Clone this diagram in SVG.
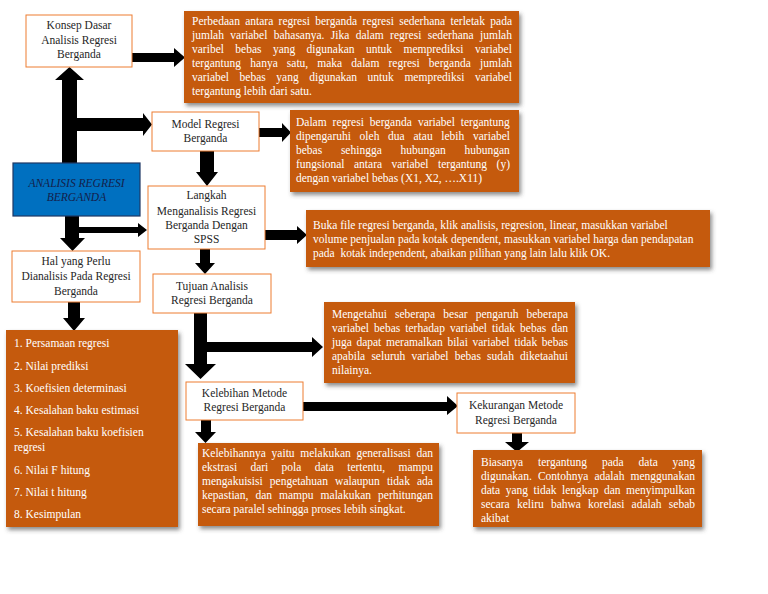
<svg xmlns="http://www.w3.org/2000/svg" width="768" height="594" viewBox="0 0 768 594">
<defs>
<filter id="sh" x="-10%" y="-10%" width="125%" height="130%">
<feDropShadow dx="2" dy="3" stdDeviation="2" flood-color="#404040" flood-opacity="0.6"/>
</filter>
<style>
.wbox{fill:#ffffff;stroke:#ED7D31;stroke-width:1}
.obox{fill:#C55A11;filter:url(#sh)}
.bbox{fill:#0070C0;stroke:#1F3864;stroke-width:1.2}
.nt{font-family:'Liberation Serif','Times New Roman',serif;font-size:11.5px;fill:#262626;text-anchor:middle}
.bt{font-family:'Liberation Serif','Times New Roman',serif;font-size:11.5px;fill:#14204a;text-anchor:middle;font-style:italic}
.ot{font-family:'Liberation Serif','Times New Roman',serif;font-size:11.5px;fill:#ffffff}
.ar{fill:#000000}
</style>
</defs>
<rect width="768" height="594" fill="#ffffff"/>

<g id="connectors">
<polygon class="ar" points="62,164 62,80 55,80 69.5,67 84,80 77,80 77,164"/>
<polygon class="ar" points="77,118 143,118 143,113 152,124.5 143,136 143,131 77,131"/>
<polygon class="ar" points="131,53 174,53 174,48 185,57.5 174,67 174,62 131,62"/>
<polygon class="ar" points="259,128 282,128 282,123 291,132.5 282,142 282,137 259,137"/>
<polygon class="ar" points="200,151 200,172 196,172 207,186 218,172 214,172 214,151"/>
<polygon class="ar" points="65,216 65,238 60,238 72.5,251 85,238 79,238 79,216"/>
<polygon class="ar" points="79,227 138,227 138,223 147,230 138,237 138,233 79,233"/>
<polygon class="ar" points="265,230 297,230 297,226 307,235 297,244 297,240 265,240"/>
<polygon class="ar" points="200,249 200,263 195,263 205,274 215,263 210,263 210,249"/>
<polygon class="ar" points="68,302 68,318 63,318 74,331 85,318 80,318 80,302"/>
<polygon class="ar" points="194,313 194,364 185,364 200.5,379 216,364 207,364 207,313"/>
<polygon class="ar" points="207,342 312,342 312,337 323,347 312,357 312,352 207,352"/>
<polygon class="ar" points="303,402 447,402 447,396 458,406 447,415 447,411 303,411"/>
<polygon class="ar" points="201,420 201,432 195,432 205.5,443 216,432 211,432 211,420"/>
<polygon class="ar" points="512,433 512,442 505,442 517,452 529,442 522,442 522,433"/>
</g>

<g id="n-analisis">
<rect class="bbox" x="13" y="163" width="127" height="53"/>
<text class="bt" x="76.5" y="187">ANALISIS REGRESI</text>
<text class="bt" x="76.5" y="201">BERGANDA</text>
</g>

<g id="n-konsep">
<rect class="wbox" x="26" y="15" width="106" height="52"/>
<text class="nt" x="79" y="29">Konsep Dasar</text>
<text class="nt" x="79" y="44">Analisis Regresi</text>
<text class="nt" x="79" y="58">Berganda</text>
</g>

<g id="n-model">
<rect class="wbox" x="152" y="112" width="107" height="39"/>
<text class="nt" x="205.5" y="128">Model Regresi</text>
<text class="nt" x="205.5" y="142">Berganda</text>
</g>

<g id="n-langkah">
<rect class="wbox" x="148" y="186" width="117" height="63"/>
<text class="nt" x="206.5" y="199">Langkah</text>
<text class="nt" x="206.5" y="215">Menganalisis Regresi</text>
<text class="nt" x="206.5" y="229">Berganda Dengan</text>
<text class="nt" x="206.5" y="243">SPSS</text>
</g>

<g id="n-hal">
<rect class="wbox" x="12" y="251" width="128" height="51"/>
<text class="nt" x="76" y="265">Hal yang Perlu</text>
<text class="nt" x="76" y="280">Dianalisis Pada Regresi</text>
<text class="nt" x="76" y="295">Berganda</text>
</g>

<g id="n-tujuan">
<rect class="wbox" x="153" y="274" width="118" height="39"/>
<text class="nt" x="212" y="290">Tujuan Analisis</text>
<text class="nt" x="212" y="304">Regresi Berganda</text>
</g>

<g id="n-kelebihan">
<rect class="wbox" x="186" y="382" width="117" height="38"/>
<text class="nt" x="244.5" y="397">Kelebihan Metode</text>
<text class="nt" x="244.5" y="411">Regresi Berganda</text>
</g>

<g id="n-kekurangan">
<rect class="wbox" x="457" y="393" width="118" height="40"/>
<text class="nt" x="516" y="409">Kekurangan Metode</text>
<text class="nt" x="516" y="424">Regresi Berganda</text>
</g>

<g id="n-perbedaan">
<rect class="obox" x="184" y="11" width="335" height="92"/>
<text class="ot" y="25"><tspan x="192">Perbedaan</tspan> <tspan x="245.2">antara</tspan> <tspan x="278.6">regresi</tspan> <tspan x="315.2">berganda</tspan> <tspan x="362.6">regresi</tspan> <tspan x="399.2">sederhana</tspan> <tspan x="450.5">terletak</tspan> <tspan x="490.3">pada</tspan></text>
<text class="ot" y="39"><tspan x="192">jumlah</tspan> <tspan x="230.3">variabel</tspan> <tspan x="273.7">bahasanya.</tspan> <tspan x="330.8">Jika</tspan> <tspan x="355.7">dalam</tspan> <tspan x="390.1">regresi</tspan> <tspan x="427.7">sederhana</tspan> <tspan x="480">jumlah</tspan></text>
<text class="ot" y="53"><tspan x="192">varibel</tspan> <tspan x="235.3">bebas</tspan> <tspan x="272.9">yang</tspan> <tspan x="306.6">digunakan</tspan> <tspan x="365.9">untuk</tspan> <tspan x="403.5">memprediksi</tspan> <tspan x="474.9">variabel</tspan></text>
<text class="ot" y="67"><tspan x="192">tergantung</tspan> <tspan x="250.3">hanya</tspan> <tspan x="286.8">satu,</tspan> <tspan x="317.3">maka</tspan> <tspan x="351.3">dalam</tspan> <tspan x="388.5">regresi</tspan> <tspan x="428.8">berganda</tspan> <tspan x="480.1">jumlah</tspan></text>
<text class="ot" y="81"><tspan x="192">variabel</tspan> <tspan x="239.6">bebas</tspan> <tspan x="276.3">yang</tspan> <tspan x="309.2">digunakan</tspan> <tspan x="367.6">untuk</tspan> <tspan x="404.4">memprediksi</tspan> <tspan x="474.9">variabel</tspan></text>
<text class="ot" x="192" y="95">tergantung lebih dari satu.</text>
</g>

<g id="n-dalam">
<rect class="obox" x="290" y="110" width="229" height="82"/>
<text class="ot" y="126"><tspan x="296">Dalam</tspan> <tspan x="332.6">regresi</tspan> <tspan x="369.8">berganda</tspan> <tspan x="417.9">variabel</tspan> <tspan x="460.8">tergantung</tspan></text>
<text class="ot" y="140"><tspan x="296">dipengaruhi</tspan> <tspan x="359.6">oleh</tspan> <tspan x="388.1">dua</tspan> <tspan x="413.5">atau</tspan> <tspan x="441.3">lebih</tspan> <tspan x="473">variabel</tspan></text>
<text class="ot" y="154"><tspan x="296">bebas</tspan> <tspan x="340.9">sehingga</tspan> <tspan x="400.5">hubungan</tspan> <tspan x="464.5">hubungan</tspan></text>
<text class="ot" y="168"><tspan x="296">fungsional</tspan> <tspan x="354">antara</tspan> <tspan x="391.5">variabel</tspan> <tspan x="438">tergantung</tspan> <tspan x="496.6">(y)</tspan></text>
<text class="ot" x="296" y="182">dengan variabel bebas (X1, X2, ….X11)</text>
</g>

<g id="n-buka">
<rect class="obox" x="306" y="210" width="404" height="57"/>
<text class="ot" x="313" y="229">Buka file regresi berganda, klik analisis, regresion, linear, masukkan variabel</text>
<text class="ot" x="313" y="243">volume penjualan pada kotak dependent, masukkan variabel harga dan pendapatan</text>
<text class="ot" x="313" y="257" xml:space="preserve">pada  kotak independent, abaikan pilihan yang lain lalu klik OK.</text>
</g>

<g id="n-list">
<rect class="obox" x="6" y="330" width="172" height="197"/>
<text class="ot" x="14" y="347">1. Persamaan regresi</text>
<text class="ot" x="14" y="370">2. Nilai prediksi</text>
<text class="ot" x="14" y="392">3. Koefisien determinasi</text>
<text class="ot" x="14" y="414">4. Kesalahan baku estimasi</text>
<text class="ot" x="14" y="436">5. Kesalahan baku koefisien</text>
<text class="ot" x="14" y="451">regresi</text>
<text class="ot" x="14" y="474">6. Nilai F hitung</text>
<text class="ot" x="14" y="496">7. Nilai t hitung</text>
<text class="ot" x="14" y="518">8. Kesimpulan</text>
</g>

<g id="n-mengetahui">
<rect class="obox" x="324" y="302" width="251" height="81"/>
<text class="ot" y="318"><tspan x="332">Mengetahui</tspan> <tspan x="395">seberapa</tspan> <tspan x="443.3">besar</tspan> <tspan x="475.7">pengaruh</tspan> <tspan x="526.5">beberapa</tspan></text>
<text class="ot" y="332"><tspan x="332">variabel</tspan> <tspan x="374.1">bebas</tspan> <tspan x="405.3">terhadap</tspan> <tspan x="450">variabel</tspan> <tspan x="492.1">tidak</tspan> <tspan x="520.1">bebas</tspan> <tspan x="551.4">dan</tspan></text>
<text class="ot" y="346"><tspan x="332">juga</tspan> <tspan x="356.4">dapat</tspan> <tspan x="386">meramalkan</tspan> <tspan x="447.4">bilai</tspan> <tspan x="472.5">variabel</tspan> <tspan x="514.2">tidak</tspan> <tspan x="541.8">bebas</tspan></text>
<text class="ot" y="360"><tspan x="332">apabila</tspan> <tspan x="371.4">seluruh</tspan> <tspan x="411.5">variabel</tspan> <tspan x="454.7">bebas</tspan> <tspan x="487.1">sudah</tspan> <tspan x="520.1">diketaahui</tspan></text>
<text class="ot" x="332" y="374">nilainya.</text>
</g>

<g id="n-kelebihannya">
<rect class="obox" x="198" y="443" width="241" height="83"/>
<text class="ot" y="457"><tspan x="202">Kelebihannya</tspan> <tspan x="271.6">yaitu</tspan> <tspan x="300.3">melakukan</tspan> <tspan x="356.4">generalisasi</tspan> <tspan x="416.4">dan</tspan></text>
<text class="ot" y="471"><tspan x="202">ekstrasi</tspan> <tspan x="250.4">dari</tspan> <tspan x="281.6">pola</tspan> <tspan x="314.7">data</tspan> <tspan x="347.2">tertentu,</tspan> <tspan x="398.5">mampu</tspan></text>
<text class="ot" y="485"><tspan x="202">mengakuisisi</tspan> <tspan x="269.8">pengetahuan</tspan> <tspan x="335.1">walaupun</tspan> <tspan x="386.9">tidak</tspan> <tspan x="417">ada</tspan></text>
<text class="ot" y="499"><tspan x="202">kepastian,</tspan> <tspan x="255.4">dan</tspan> <tspan x="279">mampu</tspan> <tspan x="320.6">malakukan</tspan> <tspan x="378.1">perhitungan</tspan></text>
<text class="ot" x="202" y="513">secara paralel sehingga proses lebih singkat.</text>
</g>

<g id="n-biasanya">
<rect class="obox" x="473" y="450" width="229" height="77"/>
<text class="ot" y="466"><tspan x="481">Biasanya</tspan> <tspan x="538">tergantung</tspan> <tspan x="602">pada</tspan> <tspan x="638.6">data</tspan> <tspan x="672.6">yang</tspan></text>
<text class="ot" y="480"><tspan x="481">digunakan.</tspan> <tspan x="537.9">Contohnya</tspan> <tspan x="594.4">adalah</tspan> <tspan x="630.5">menggunakan</tspan></text>
<text class="ot" y="494"><tspan x="481">data</tspan> <tspan x="505.7">yang</tspan> <tspan x="533.5">tidak</tspan> <tspan x="562">lengkap</tspan> <tspan x="603.9">dan</tspan> <tspan x="626">menyimpulkan</tspan></text>
<text class="ot" y="508"><tspan x="481">secara</tspan> <tspan x="516.9">keliru</tspan> <tspan x="550.9">bahwa</tspan> <tspan x="588.1">korelasi</tspan> <tspan x="631.6">adalah</tspan> <tspan x="668.8">sebab</tspan></text>
<text class="ot" x="481" y="522">akibat</text>
</g>
</svg>
